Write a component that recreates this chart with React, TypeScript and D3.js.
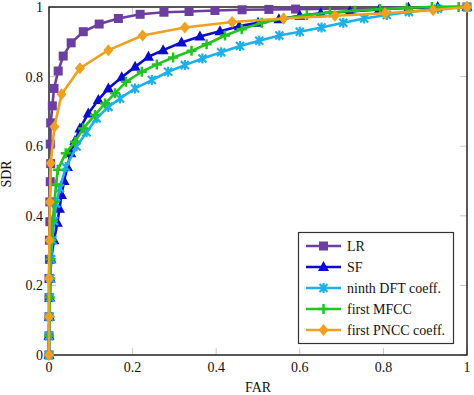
import { useEffect, useRef } from 'react';
import * as d3 from 'd3';

// ROC points (FAR, SDR)
const lrFar = [0, 0, 0, 0, 0, 0.001, 0.001, 0.002, 0.002, 0.003, 0.004, 0.003, 0.004, 0.008, 0.012, 0.022, 0.034, 0.053, 0.082, 0.12, 0.166, 0.218, 0.275, 0.335, 0.397, 0.462, 0.526, 0.59, 1];
const lrSdr = [0, 0.055, 0.11, 0.165, 0.22, 0.275, 0.33, 0.383, 0.44, 0.498, 0.55, 0.606, 0.667, 0.716, 0.766, 0.816, 0.859, 0.897, 0.929, 0.951, 0.967, 0.979, 0.985, 0.987, 0.99, 0.992, 0.993, 0.994, 1];

const sfFar = [0, 0, 0.001, 0.002, 0.003, 0.005, 0.012, 0.02, 0.025, 0.03, 0.036, 0.044, 0.052, 0.062, 0.074, 0.094, 0.118, 0.142, 0.174, 0.206, 0.238, 0.273, 0.317, 0.361, 0.409, 0.455, 0.5, 0.55, 0.6, 0.65, 0.72, 0.79, 0.86, 0.93, 1];
const sfSdr = [0, 0.055, 0.11, 0.165, 0.22, 0.275, 0.33, 0.38, 0.42, 0.46, 0.5, 0.54, 0.58, 0.615, 0.651, 0.694, 0.733, 0.766, 0.798, 0.828, 0.857, 0.876, 0.898, 0.915, 0.93, 0.945, 0.955, 0.965, 0.975, 0.982, 0.987, 0.993, 0.998, 1, 1];

const dftFar = [0, 0, 0.001, 0.002, 0.003, 0.005, 0.008, 0.012, 0.017, 0.026, 0.04, 0.066, 0.09, 0.114, 0.142, 0.17, 0.206, 0.246, 0.285, 0.325, 0.367, 0.412, 0.457, 0.503, 0.551, 0.6, 0.652, 0.704, 0.754, 0.808, 0.861, 0.93, 1];
const dftSdr = [0, 0.055, 0.11, 0.165, 0.22, 0.275, 0.33, 0.385, 0.435, 0.479, 0.54, 0.599, 0.64, 0.68, 0.713, 0.737, 0.766, 0.79, 0.814, 0.833, 0.852, 0.87, 0.888, 0.903, 0.918, 0.929, 0.941, 0.955, 0.967, 0.977, 0.986, 0.995, 1];

const mfccFar = [0, 0, 0.001, 0.002, 0.003, 0.004, 0.006, 0.009, 0.013, 0.017, 0.021, 0.04, 0.062, 0.082, 0.11, 0.134, 0.158, 0.184, 0.222, 0.258, 0.297, 0.341, 0.377, 0.421, 0.461, 0.509, 0.562, 0.617, 0.672, 0.732, 0.792, 0.856, 0.916, 0.98];
const mfccSdr = [0, 0.055, 0.11, 0.165, 0.22, 0.275, 0.33, 0.385, 0.44, 0.49, 0.532, 0.58, 0.613, 0.651, 0.69, 0.723, 0.752, 0.785, 0.814, 0.835, 0.855, 0.874, 0.893, 0.918, 0.936, 0.955, 0.967, 0.977, 0.984, 0.989, 0.994, 0.998, 1, 1];

const pnccFar = [0, 0, 0, 0.001, 0.002, 0.004, 0.013, 0.03, 0.074, 0.142, 0.224, 0.325, 0.438, 0.561, 0.684, 0.804, 0.919, 1];
const pnccSdr = [0, 0.11, 0.22, 0.33, 0.44, 0.551, 0.656, 0.749, 0.824, 0.876, 0.918, 0.941, 0.957, 0.967, 0.975, 0.982, 0.991, 1];

const seriesNames = ['LR', 'SF', 'ninth DFT coeff.', 'first MFCC', 'first PNCC coeff.'];
const seriesColors = ['#6c3ea0', '#0a0ad0', '#1cb0ea', '#22c422', '#efa020'];
const seriesMarkers = ['square', 'triangle', 'asterisk', 'plus', 'diamond'];
const seriesFar = [lrFar, sfFar, dftFar, mfccFar, pnccFar];
const seriesSdr = [lrSdr, sfSdr, dftSdr, mfccSdr, pnccSdr];

const ticks = [0, 0.2, 0.4, 0.6, 0.8, 1];

export default function App() {
  const svgRef = useRef<SVGSVGElement>(null);

  useEffect(() => {
    if (!svgRef.current) return;
    const svg = d3.select(svgRef.current);
    svg.selectAll('*').remove();

    const width = 474;
    const height = 395;
    const font = "'Liberation Serif', 'Times New Roman', serif";

    const x = d3.scaleLinear().domain([0, 1]).range([49, 467]);
    const y = d3.scaleLinear().domain([0, 1]).range([355, 7]);

    svg.append('rect').attr('width', width).attr('height', height).attr('fill', '#fff');

    // inward gray ticks on all four sides
    const tickG = svg.append('g').attr('stroke', '#c8c8c8').attr('stroke-width', 1);
    for (const t of ticks) {
      tickG.append('line').attr('x1', x(t)).attr('x2', x(t)).attr('y1', y(0)).attr('y2', y(0) - 7);
      tickG.append('line').attr('x1', x(t)).attr('x2', x(t)).attr('y1', y(1)).attr('y2', y(1) + 7);
      tickG.append('line').attr('y1', y(t)).attr('y2', y(t)).attr('x1', x(0)).attr('x2', x(0) + 7);
      tickG.append('line').attr('y1', y(t)).attr('y2', y(t)).attr('x1', x(1)).attr('x2', x(1) - 7);
    }

    // frame
    svg.append('rect')
      .attr('x', x(0)).attr('y', y(1))
      .attr('width', x(1) - x(0)).attr('height', y(0) - y(1))
      .attr('fill', 'none').attr('stroke', '#222').attr('stroke-width', 1.5);

    // tick labels
    const labels = svg.append('g').style('font-family', font).attr('font-size', 14).attr('fill', '#111');
    for (const t of ticks) {
      labels.append('text')
        .attr('x', x(t)).attr('y', y(0) + 17)
        .attr('text-anchor', 'middle')
        .text(d3.format('~g')(t));
      labels.append('text')
        .attr('x', x(0) - 6).attr('y', y(t) + 5)
        .attr('text-anchor', 'end')
        .text(d3.format('~g')(t));
    }
    labels.append('text')
      .attr('x', (x(0) + x(1)) / 2).attr('y', 392)
      .attr('text-anchor', 'middle').text('FAR');
    labels.append('text')
      .attr('transform', 'translate(11,174) rotate(-90)')
      .attr('text-anchor', 'middle').text('SDR');

    function drawMarker(g: d3.Selection<SVGGElement, unknown, null, undefined>, kind: string, cx: number, cy: number, color: string) {
      if (kind === 'square') {
        g.append('rect').attr('x', cx - 4.5).attr('y', cy - 4.5).attr('width', 9).attr('height', 9).attr('fill', color);
      } else if (kind === 'triangle') {
        g.append('path').attr('d', `M${cx},${cy - 6} L${cx + 5.5},${cy + 4} L${cx - 5.5},${cy + 4} Z`).attr('fill', color);
      } else if (kind === 'diamond') {
        g.append('path').attr('d', `M${cx},${cy - 6} L${cx + 5},${cy} L${cx},${cy + 6} L${cx - 5},${cy} Z`).attr('fill', color);
      } else if (kind === 'plus') {
        g.append('path').attr('d', `M${cx - 5},${cy} H${cx + 5} M${cx},${cy - 5} V${cy + 5}`)
          .attr('stroke', color).attr('stroke-width', 2.5).attr('fill', 'none');
      } else {
        g.append('path')
          .attr('d', `M${cx - 4},${cy - 4} L${cx + 4},${cy + 4} M${cx - 4},${cy + 4} L${cx + 4},${cy - 4} M${cx},${cy - 5} V${cy + 5}`)
          .attr('stroke', color).attr('stroke-width', 2.2).attr('fill', 'none');
      }
    }

    const line = d3.line<[number, number]>().x((d) => x(d[0])).y((d) => y(d[1]));

    seriesNames.forEach((_, i) => {
      const pts: [number, number][] = seriesFar[i].map((f, j) => [f, seriesSdr[i][j]]);
      const g = svg.append('g');
      g.append('path')
        .attr('d', line(pts))
        .attr('fill', 'none')
        .attr('stroke', seriesColors[i])
        .attr('stroke-width', 2.6)
        .attr('stroke-linejoin', 'round');
      for (const p of pts) drawMarker(g, seriesMarkers[i], x(p[0]), y(p[1]), seriesColors[i]);
    });

    // legend
    const lg = svg.append('g');
    lg.append('rect')
      .attr('x', 298.5).attr('y', 232.5).attr('width', 155).attr('height', 111)
      .attr('fill', '#fff').attr('stroke', '#333').attr('stroke-width', 1.2);
    seriesNames.forEach((name, i) => {
      const ly = 246 + i * 21;
      lg.append('line')
        .attr('x1', 306).attr('x2', 341).attr('y1', ly).attr('y2', ly)
        .attr('stroke', seriesColors[i]).attr('stroke-width', 2.6);
      drawMarker(lg, seriesMarkers[i], 323.5, ly, seriesColors[i]);
      lg.append('text')
        .attr('x', 347).attr('y', ly + 5)
        .style('font-family', font).attr('font-size', 14).attr('fill', '#111')
        .text(name);
    });
  }, []);

  return (
    <div style={{ position: 'absolute', left: 0, top: 0 }}>
      <svg ref={svgRef} width={474} height={395} style={{ display: 'block' }} />
    </div>
  );
}
